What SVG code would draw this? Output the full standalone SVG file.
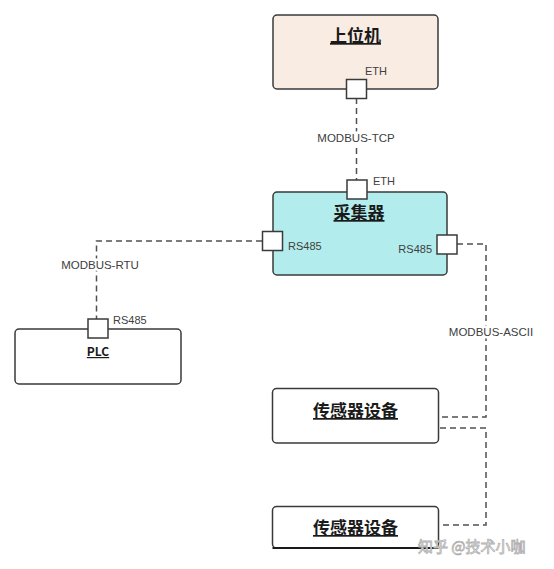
<svg xmlns="http://www.w3.org/2000/svg" width="554" height="569" viewBox="0 0 554 569">
<style>
.box{stroke:#3a3a3a;stroke-width:1.5}
.port{fill:#ffffff;stroke:#3a3a3a;stroke-width:1.5}
.title{font-family:"Noto Sans CJK SC","Liberation Serif",serif;font-weight:bold;font-size:17px;fill:#1a1a1a;text-anchor:middle;text-decoration:underline}
.lbl{font-family:"Liberation Sans",Arial,sans-serif;font-size:11px;fill:#404040}
.conn{fill:none;stroke:#505050;stroke-width:1.5;stroke-dasharray:6 4}
.clbl{font-family:"Liberation Sans",Arial,sans-serif;font-size:11.5px;fill:#404040;text-anchor:middle;stroke:#ffffff;stroke-width:5;paint-order:stroke}
</style>
<rect width="554" height="569" fill="#ffffff"/>
<g id="connectors">
<path class="conn" d="M356.5 98 V180"/>
<path class="conn" d="M262 241 H96.5 V319"/>
<path class="conn" d="M457 244 H486 V417 H440"/>
<path class="conn" d="M440 428 H486 V525 H440"/>
<text class="clbl" x="356" y="142">MODBUS-TCP</text>
<text class="clbl" x="100" y="269">MODBUS-RTU</text>
<text class="clbl" x="491" y="336">MODBUS-ASCII</text>
</g>
<g id="host">
<rect class="box" x="273" y="15" width="165" height="74" rx="4" fill="#f9ece3"/>
<text class="title" x="355.5" y="42">上位机</text>
<text class="lbl" x="365" y="75">ETH</text>
<rect class="port" x="346.5" y="79.5" width="20" height="19"/>
</g>
<g id="collector">
<rect class="box" x="273" y="192" width="174" height="83" rx="4" fill="#b3ecec"/>
<rect class="port" x="347" y="180" width="20" height="19"/>
<text class="lbl" x="373" y="185">ETH</text>
<text class="title" x="359" y="219">采集器</text>
<rect class="port" x="262.5" y="231.5" width="20" height="19"/>
<text class="lbl" x="288" y="250">RS485</text>
<rect class="port" x="437" y="235" width="20" height="19"/>
<text class="lbl" x="432" y="253" text-anchor="end">RS485</text>
</g>
<g id="plc">
<rect class="box" x="15" y="329" width="166" height="55" rx="4" fill="#ffffff"/>
<rect class="port" x="88" y="319" width="20" height="19"/>
<text class="lbl" x="113" y="324">RS485</text>
<text class="title" x="98" y="356" style="font-size:12px">PLC</text>
</g>
<g id="sensor1">
<rect class="box" x="272.5" y="388.5" width="166" height="54.5" rx="4" fill="#ffffff"/>
<text class="title" x="355.5" y="417">传感器设备</text>
</g>
<g id="sensor2">
<rect class="box" x="272.5" y="506.5" width="166" height="41.5" rx="4" fill="#ffffff"/>
<line x1="272.5" y1="548" x2="438.5" y2="548" stroke="#1a1a1a" stroke-width="2"/>
<text class="title" x="355.5" y="534">传感器设备</text>
</g>
<text x="418" y="552" font-family="Noto Sans CJK SC, sans-serif" font-size="15" fill="#ffffff" stroke="#b0b0b0" stroke-width="0.8">知乎 @技术小咖</text>
</svg>
